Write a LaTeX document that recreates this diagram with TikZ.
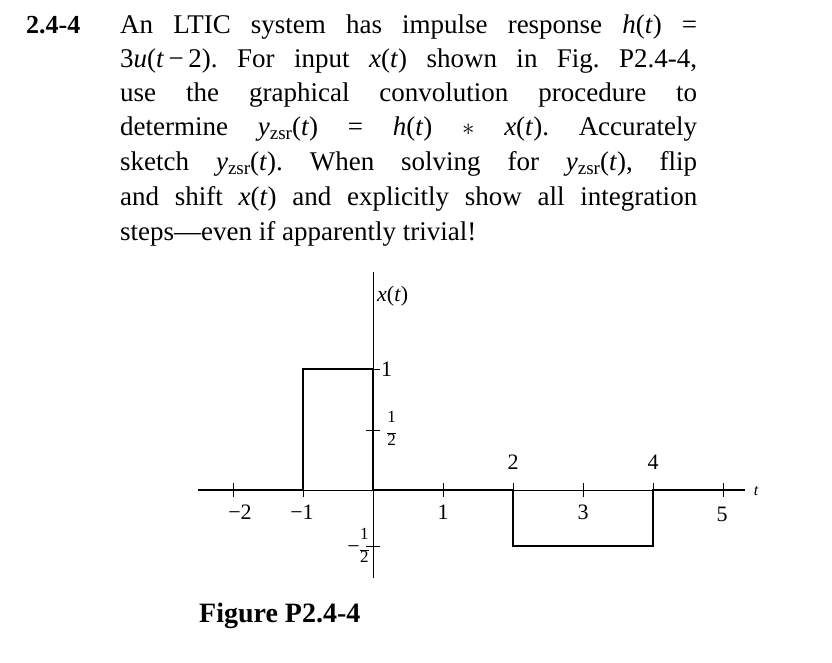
\documentclass[tikz,border=0pt]{standalone}
\usepackage{fontspec}
\setmainfont{Liberation Serif}
\frenchspacing
\newcommand{\ti}[1]{\textit{#1}}
\newcommand{\yz}{\ti{y}\raisebox{-4pt}{\fontsize{19}{19}\selectfont zsr}}
\newcommand{\hf}{$\vcenter{\hbox{\fontsize{17}{17}\selectfont\begin{tabular}{@{}c@{}}1\\[-6pt]\rule{9pt}{0.7pt}\\[-5pt]2\end{tabular}}}$}
\tikzset{ln/.style={anchor=base west,inner sep=0,font=\fontsize{27}{29}\selectfont},
 lab/.style={inner sep=0,font=\fontsize{22}{22}\selectfont},
 ax/.style={line width=0.9pt},
 sig/.style={line width=2.4pt,line join=miter}}
\begin{document}
\begin{tikzpicture}[x=1pt,y=-1pt]
\useasboundingbox (0,0) rectangle (832,662);
\node[ln,font=\fontsize{26}{28}\selectfont\bfseries] (num) at (26,33) {2.4-4};
\node[ln] (l1) at (120,33) {\hbox to 577pt{An LTIC system has impulse response \ti{h}(\ti{t})\ =}};
\node[ln] (l2) at (120,67) {\hbox to 577pt{3\ti{u}(\ti{t}\,−\,2). For input \ti{x}(\ti{t}) shown in Fig. P2.4-4,}};
\node[ln] (l3) at (120,101) {\hbox to 577pt{use the graphical convolution procedure to}};
\node[ln] (l4) at (120,135) {\hbox to 577pt{determine \yz(\ti{t}) = \ti{h}(\ti{t}) $\ast$ \ti{x}(\ti{t}). Accurately}};
\node[ln] (l5) at (120,170) {\hbox to 577pt{sketch \yz(\ti{t}). When solving for \yz(\ti{t}), flip}};
\node[ln] (l6) at (120,205) {\hbox to 577pt{and shift \ti{x}(\ti{t}) and explicitly show all integration}};
\node[ln] (l7) at (120,240) {steps—even if apparently trivial!};
% axes
\coordinate (xl) at (198,490); \coordinate (xr) at (745,490);
\coordinate (yb) at (373,578); \coordinate (yt) at (373,272);
\draw[ax] (xl) -- (xr);
\draw[ax] (yb) -- (yt);
\foreach \k in {-2,-1,1,2,3,4,5} \draw[ax] (373+70*\k,483) -- (373+70*\k,497);
\foreach \v in {369,430,546} \draw[ax] (366,\v) -- (380,\v);
% signal
\draw[sig] (xl) -- (303,490) -- (303,369) -- (373,369) -- (373,490) -- (513,490) -- (513,546) -- (653,546) -- (653,490) -- (xr);
% labels
\node[lab] (m2) at (240,512) {−2};
\node[lab] (m1) at (302,512) {−1};
\node[lab] (p1) at (443,512) {1};
\node[lab] (p3) at (583,512) {3};
\node[lab] (p5) at (722,514) {5};
\node[lab] (p2) at (513,462) {2};
\node[lab] (p4) at (653,462) {4};
\node[lab,font=\fontsize{16}{16}\selectfont\itshape] (tl) at (756,491) {t};
\node[lab,anchor=west] (v1) at (381,369) {1};
\node[lab,anchor=west] (vh) at (387,431) {\hf};
\node[lab,anchor=east] (vmh) at (369,548) {−\hf};
\node[lab,anchor=west] (xt) at (377,296) {\ti{x}(\ti{t})};
\node[ln,font=\fontsize{28}{30}\selectfont\bfseries] (fig) at (199,622) {Figure P2.4-4};
\end{tikzpicture}
\end{document}
